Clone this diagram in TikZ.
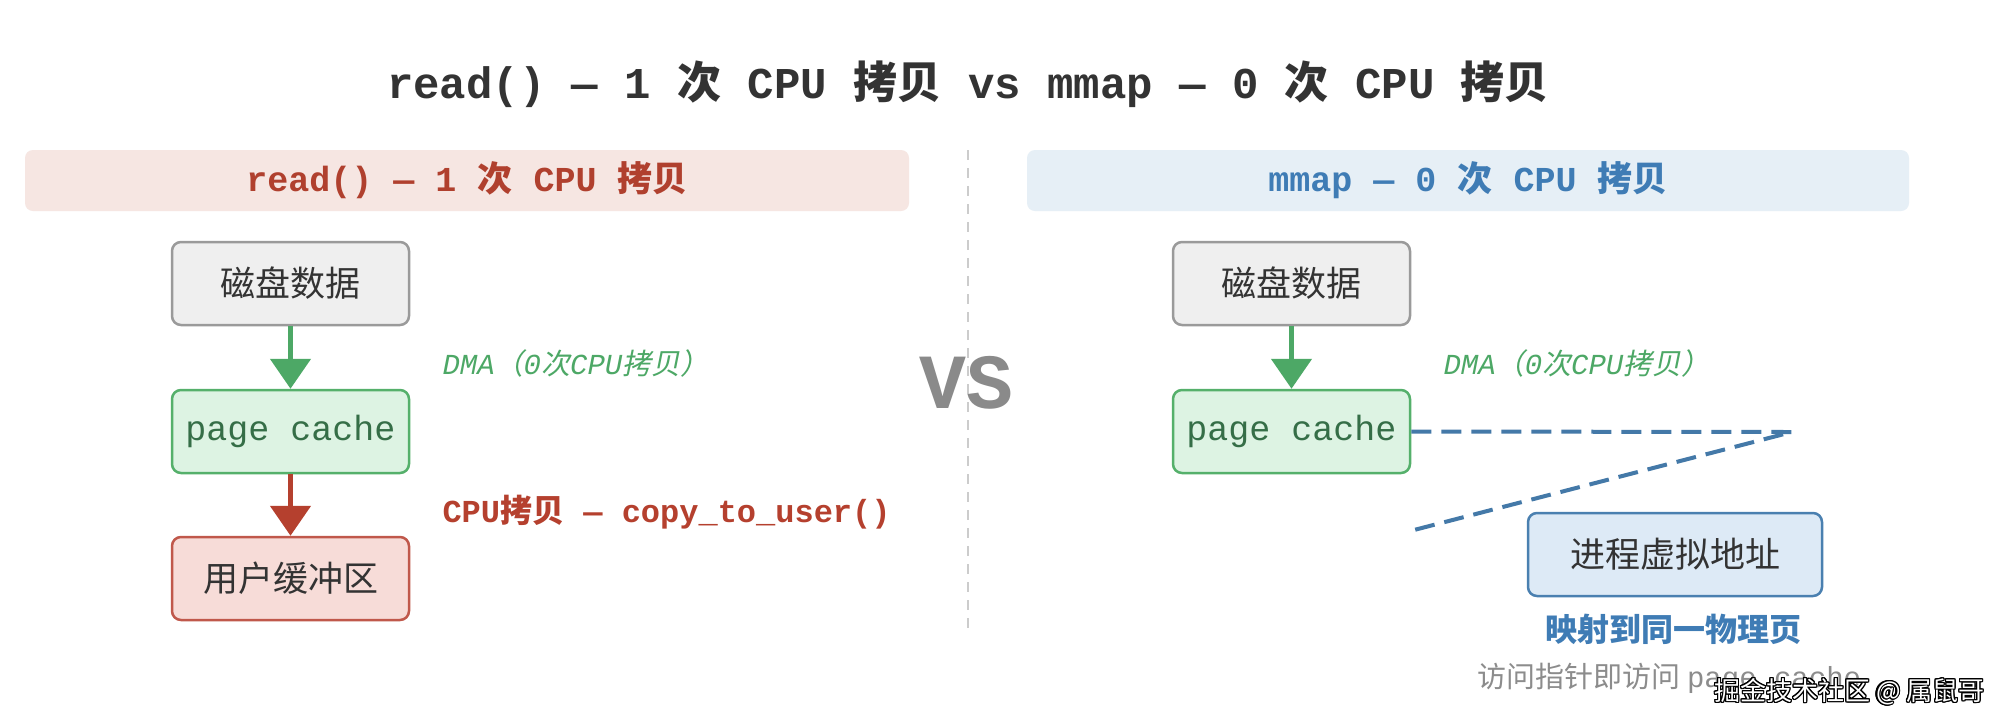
\documentclass[tikz,border=0pt]{standalone}
\usepackage{fontspec}
\setmonofont{Liberation Mono}
\newfontfamily\cjk{Noto Sans CJK SC}
\newfontfamily\cjkit[FakeSlant=0.2]{Noto Sans CJK SC}
\usepackage[copies]{contour}
\contourlength{1.2pt}
\usetikzlibrary{arrows.meta}
\newcommand\fs[1]{\fontsize{#1}{#1}\selectfont}
\newcommand\C[1]{{\cjk #1}}
\newcommand\Ci[1]{{\cjkit #1}}
\definecolor{titlec}{HTML}{333333}
\definecolor{redt}{HTML}{B0402E}
\definecolor{bluet}{HTML}{3F7CB5}
\definecolor{hdrLf}{HTML}{F6E6E2}
\definecolor{hdrRf}{HTML}{E6EFF6}
\definecolor{grayf}{HTML}{EFEFEF}
\definecolor{grayb}{HTML}{9A9A9A}
\definecolor{greenf}{HTML}{DDF3E3}
\definecolor{greenb}{HTML}{55B06B}
\definecolor{greent}{HTML}{356E47}
\definecolor{greena}{HTML}{4DA866}
\definecolor{redf}{HTML}{F7DCD8}
\definecolor{redb}{HTML}{C0584B}
\definecolor{reda}{HTML}{B5402E}
\definecolor{bluef}{HTML}{DDEAF6}
\definecolor{blueb}{HTML}{4A80B0}
\definecolor{blued}{HTML}{4479A8}
\definecolor{txt}{HTML}{333333}
\definecolor{vsgray}{HTML}{8A8A8A}
\definecolor{divc}{HTML}{CCCCCC}
\definecolor{notec}{HTML}{8C8C8C}
\tikzset{
  hdr/.style={rounded corners=8pt, minimum height=61pt, inner sep=0pt,
    font=\ttfamily\bfseries\fs{35}},
  box/.style={rounded corners=9pt, line width=2.5pt, minimum width=237pt,
    minimum height=83pt, inner sep=0pt, align=center},
  graybox/.style={box, draw=grayb, fill=grayf, text=txt, font=\cjk\fs{35}},
  greenbox/.style={box, draw=greenb, fill=greenf, text=greent, font=\ttfamily\fs{35}},
  redbox/.style={box, draw=redb, fill=redf, text=txt, font=\cjk\fs{35}},
  bluebox/.style={box, draw=blueb, fill=bluef, text=txt, font=\cjk\fs{35}, minimum width=294pt},
  flow/.style={line width=5pt, -{Triangle[width=40pt,length=30pt]}},
  maplink/.style={draw=blued, line width=4pt, dash pattern=on 20pt off 10pt},
}
\begin{document}
\begin{tikzpicture}[x=1pt,y=-1pt]
\useasboundingbox (0,0) rectangle (1996,724);
\fill[white] (0,0) rectangle (1996,724);

% title
\node[font=\ttfamily\bfseries\fs{44}, text=titlec] (title) at (968,84)
  {read() — 1 \C{次} CPU \C{拷贝} vs mmap — 0 \C{次} CPU \C{拷贝}};

% headers
\node[hdr, fill=hdrLf, text=redt, minimum width=884pt] (hl) at (467,180.5)
  {read() — 1 \C{次} CPU \C{拷贝}};
\node[hdr, fill=hdrRf, text=bluet, minimum width=882pt] (hr) at (1468,180.5)
  {mmap — 0 \C{次} CPU \C{拷贝}};

% divider
\coordinate (dtop) at (968,150);
\coordinate (dbot) at (968,634);
\draw[divc, line width=2pt, dash pattern=on 10pt off 8pt] (dtop) -- (dbot);
\node[font=\ttfamily\bfseries\fs{78}, text=vsgray] (vs) at (966,383) {VS};

% left column
\node[graybox] (disk1) at (290.5,283.5) {磁盘数据};
\node[greenbox] (pc1) at (290.5,431.5) {\raisebox{-3pt}{page cache}};
\node[redbox] (ub) at (290.5,578.5) {用户缓冲区};
\draw[flow, greena] (disk1) -- (pc1);
\draw[flow, reda] (pc1) -- (ub);
\node[anchor=west, text=greena, font=\ttfamily\itshape\fs{29}] (dma1) at (439,363)
  {DMA\Ci{（}0\Ci{次}CPU\Ci{拷贝）}};
\node[anchor=west, text=reda, font=\ttfamily\bfseries\fs{32}] (cpy) at (439,512)
  {CPU\C{拷贝} — copy\_to\_user()};

% right column
\node[graybox] (disk2) at (1291.5,283.5) {磁盘数据};
\node[greenbox] (pc2) at (1291.5,431.5) {\raisebox{-3pt}{page cache}};
\draw[flow, greena] (disk2) -- (pc2);
\node[anchor=west, text=greena, font=\ttfamily\itshape\fs{29}] (dma2) at (1440,363)
  {DMA\Ci{（}0\Ci{次}CPU\Ci{拷贝）}};
\node[bluebox] (va) at (1675,554.5) {进程虚拟地址};
\coordinate (turn) at (1792,432);
\coordinate (mend) at (1414,530);
\draw[maplink] (pc2.east) -- (turn) -- (mend);
\node[text=bluet, font=\cjk\bfseries\fs{32}] (same) at (1673,629) {映射到同一物理页};
\node[anchor=west, text=notec, font=\cjk\fs{29}] (note) at (1474,678)
  {访问指针即访问 {\ttfamily page cache}};

% watermark
\node[anchor=west, font=\cjk\fs{26}, inner sep=0pt] (wm) at (1714,692)
  {\contour{black}{\textcolor{white}{掘金技术社区 @ 属鼠哥}}};
\end{tikzpicture}
\end{document}
